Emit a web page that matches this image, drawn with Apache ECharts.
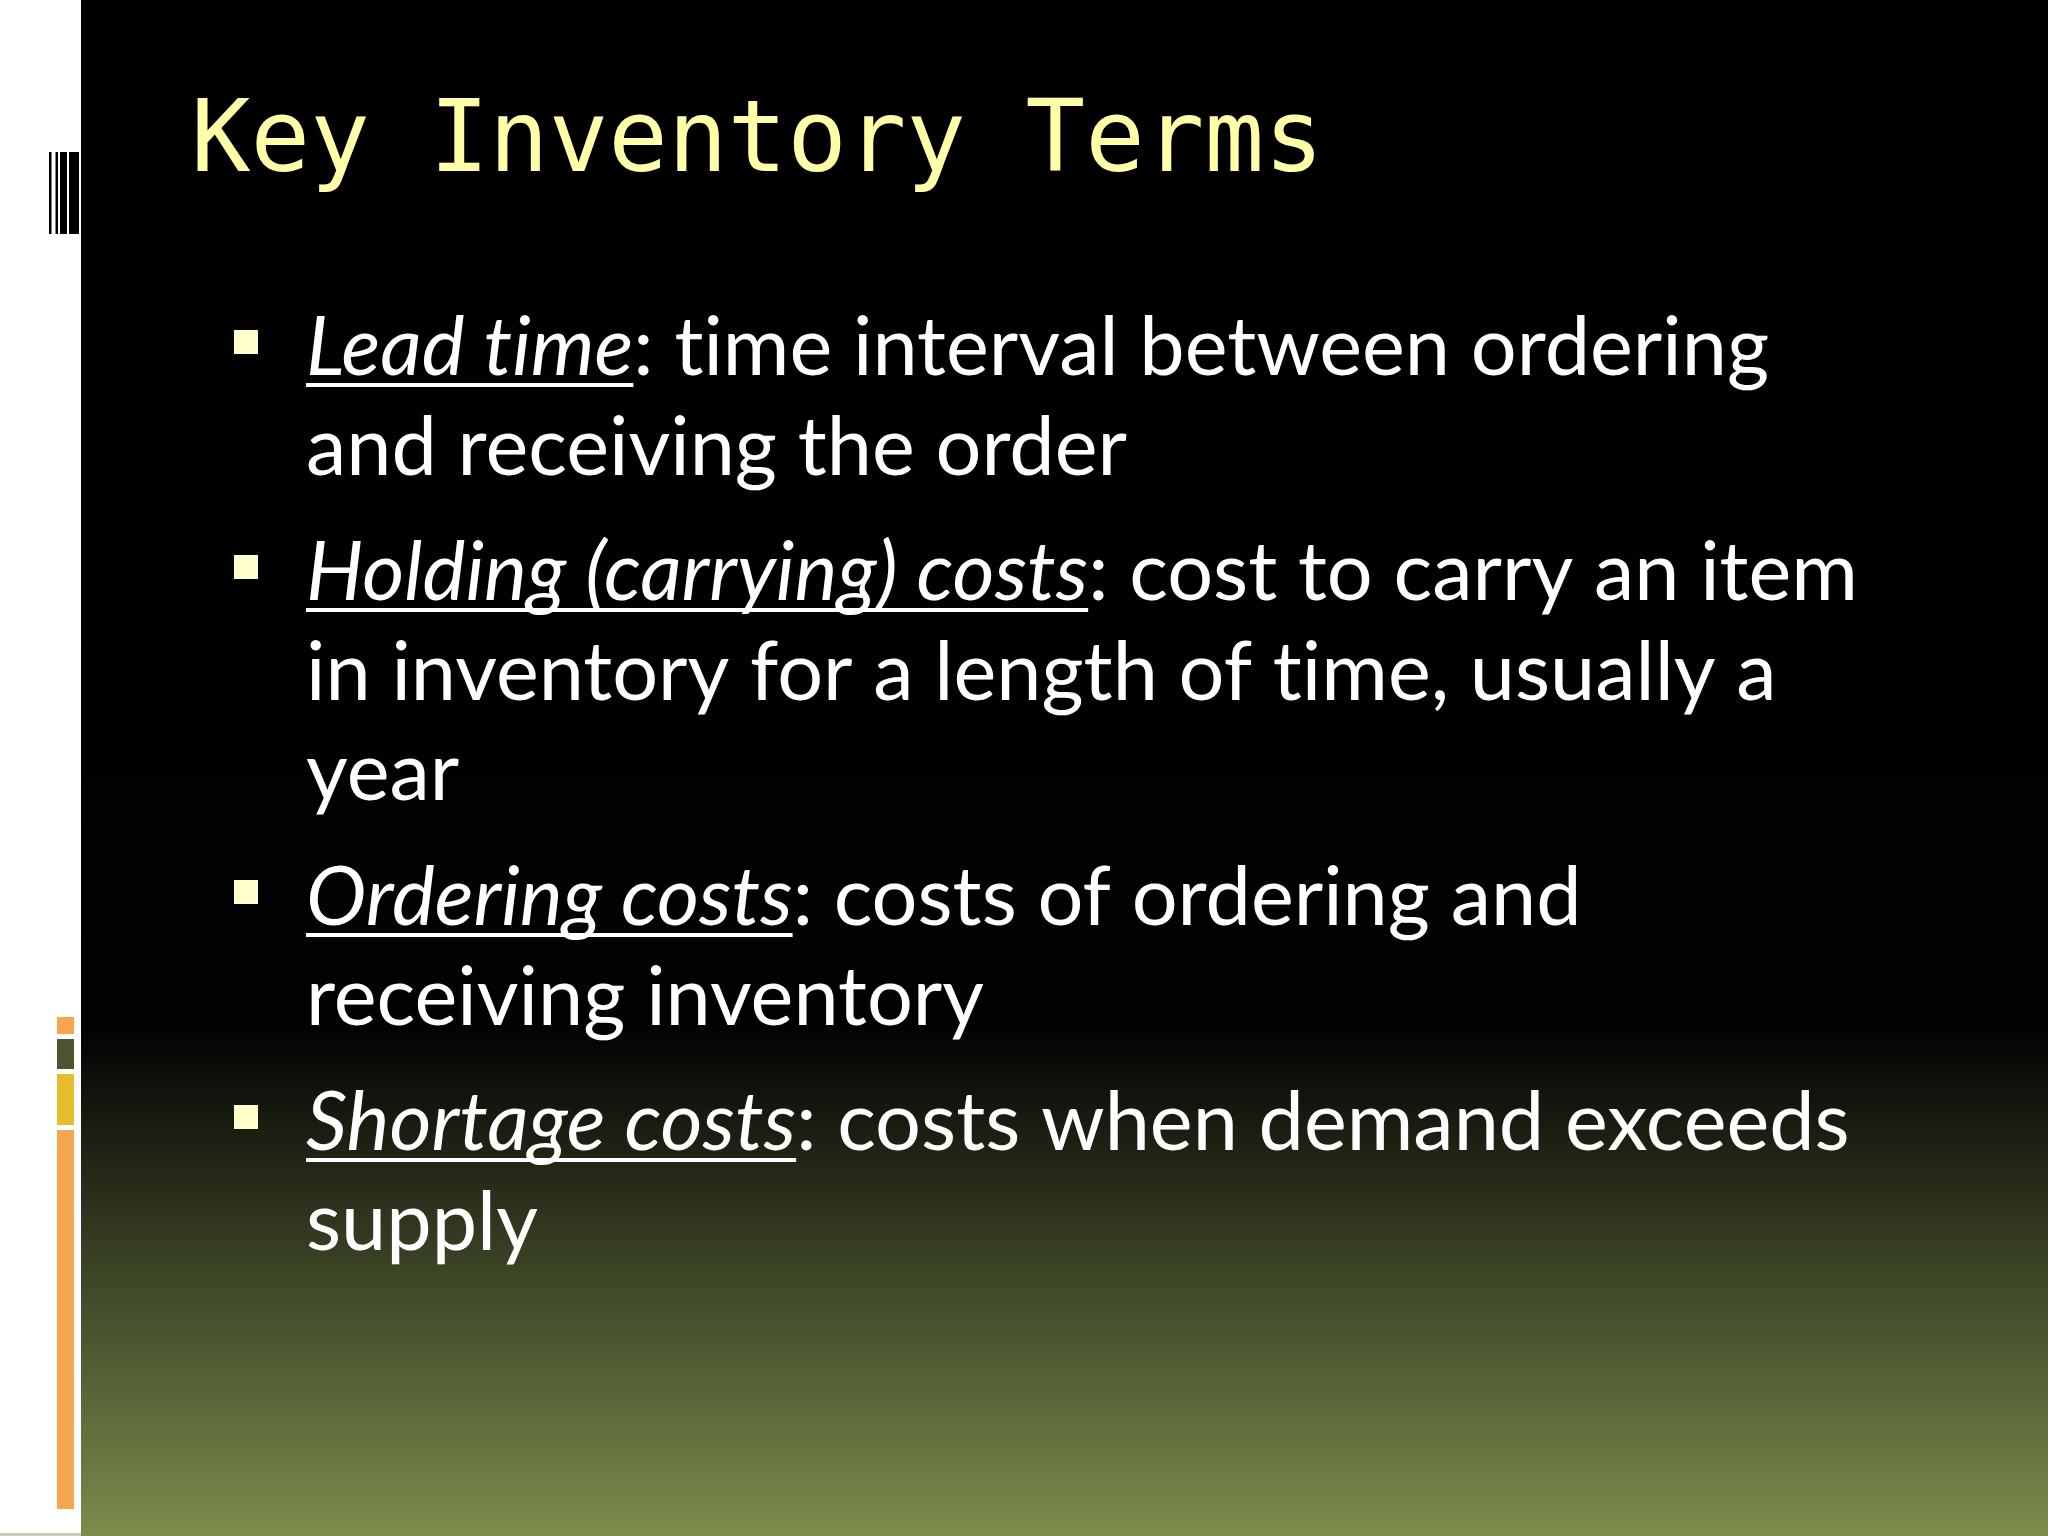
<!DOCTYPE html>
<html>
<head>
<meta charset="utf-8">
<script src="https://cdn.jsdelivr.net/npm/echarts@6/dist/echarts.min.js"></script>
<style>
html,body{margin:0;padding:0;background:#fff;}
#c{width:2048px;height:1536px;}
</style>
</head>
<body>
<div id="c"></div>
<script>
// ---- content ----
const titleText = 'Key Inventory Terms';
const terms = ['Lead time', 'Holding (carrying) costs', 'Ordering costs', 'Shortage costs'];
const firstLineRest = [': time interval between ordering', ': cost to carry an item', ': costs of ordering and', ': costs when demand exceeds'];
const continuationLines = [
  ['and receiving the order'],
  ['in inventory for a length of time, usually a', 'year'],
  ['receiving inventory'],
  ['supply']
];
const stripColors = ['#F4A650', '#4D542F', '#E6BD2C', '#F4A650'];

// ---- styling / layout ----
const W = 2048, H = 1536;
const bodyFont = 'Lato';
const fs = 81;
const lineGap = 100, paraGap = 125;
const textX = 306, firstBaseline = 375;
const midOff = 0.3225 * fs;
const titleFs = 99;

// the slide font uses no "ti" ligature: a tiny letter spacing switches optional ligatures off
(function () {
  const P = CanvasRenderingContext2D.prototype;
  const orig = P.fillText;
  P.fillText = function () {
    if ('letterSpacing' in this) this.letterSpacing = '0.01px';
    return orig.apply(this, arguments);
  };
})();

const chart = echarts.init(document.getElementById('c'), null, {renderer: 'canvas', width: W, height: H});
const mctx = document.createElement('canvas').getContext('2d');
function measure(txt, italic) {
  mctx.font = (italic ? 'italic ' : '') + fs + 'px ' + bodyFont;
  if ('letterSpacing' in mctx) mctx.letterSpacing = '0.01px';
  return mctx.measureText(txt).width;
}

const g = [];
g.push({type: 'rect', shape: {x: 0, y: 0, width: W, height: H}, style: {fill: '#ffffff'}, silent: true});
g.push({type: 'rect', shape: {x: 81, y: 0, width: W - 81, height: H}, silent: true,
  style: {fill: new echarts.graphic.LinearGradient(0, 0, 0, 1, [
    {offset: 0, color: '#000000'}, {offset: 0.67, color: '#020203'}, {offset: 1, color: '#7b8c4c'}])}});
// barcode
[[49, 2.5], [55.5, 2.5], [60, 7], [69, 10]].forEach(b => {
  g.push({type: 'rect', shape: {x: b[0], y: 152, width: b[1], height: 82}, style: {fill: '#000'}, silent: true});
});
// left strip
const stripY = [[1017, 1034], [1039, 1069], [1074, 1125], [1130, 1509]];
stripY.forEach((s, i) => {
  g.push({type: 'rect', shape: {x: 57, y: s[0], width: 17, height: s[1] - s[0]}, style: {fill: stripColors[i]}, silent: true});
});
g.push({type: 'rect', shape: {x: 0, y: 1533, width: 81, height: 3}, style: {fill: '#c9cdb8'}, silent: true});
// title
g.push({type: 'text', x: 191, y: 175 - 0.297 * titleFs, silent: true,
  style: {text: titleText, font: titleFs + 'px "DejaVu Sans Mono"', fill: '#FFFFA8', verticalAlign: 'middle', align: 'left'}});
// bullets
let base = firstBaseline;
terms.forEach((term, i) => {
  g.push({type: 'rect', shape: {x: 234, y: base - 45, width: 24, height: 24}, style: {fill: '#FFFFCC'}, silent: true});
  const tw = measure(term, true);
  g.push({type: 'text', x: textX, y: base - midOff, silent: true,
    style: {text: term, font: 'italic ' + fs + 'px ' + bodyFont, fill: '#ffffff', verticalAlign: 'middle', align: 'left'}});
  g.push({type: 'rect', shape: {x: textX, y: base + 8, width: tw, height: 4}, style: {fill: '#ffffff'}, silent: true});
  g.push({type: 'text', x: textX + tw, y: base - midOff, silent: true,
    style: {text: firstLineRest[i], font: fs + 'px ' + bodyFont, fill: '#ffffff', verticalAlign: 'middle', align: 'left'}});
  continuationLines[i].forEach(l => {
    base += lineGap;
    g.push({type: 'text', x: textX, y: base - midOff, silent: true,
      style: {text: l, font: fs + 'px ' + bodyFont, fill: '#ffffff', verticalAlign: 'middle', align: 'left'}});
  });
  base += paraGap;
});

chart.setOption({animation: false, graphic: {elements: g}});
</script>
</body>
</html>
